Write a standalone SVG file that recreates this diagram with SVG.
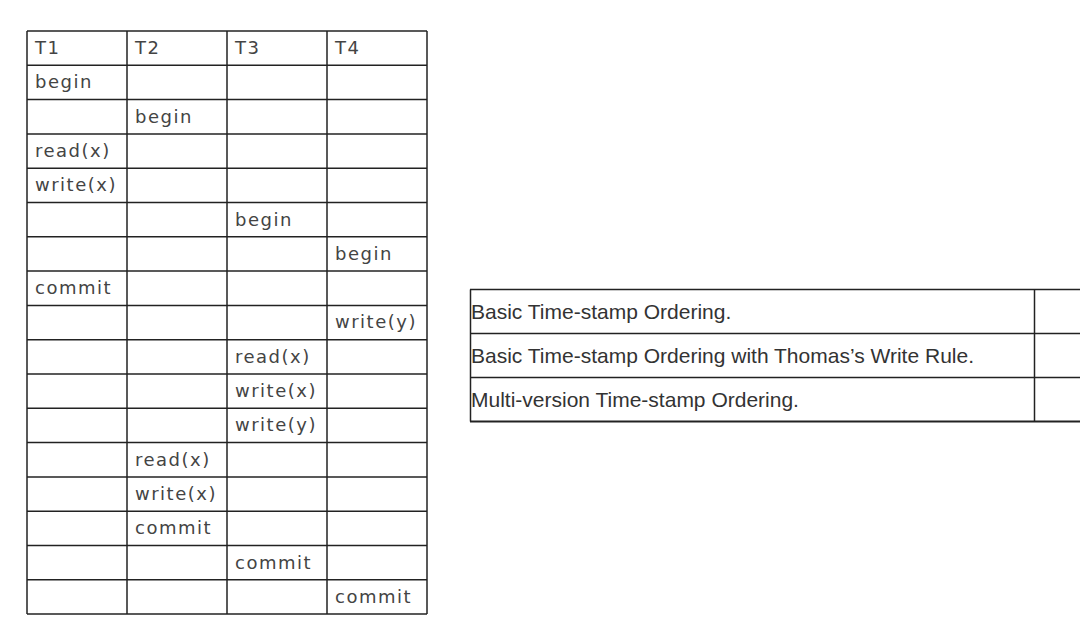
<svg xmlns="http://www.w3.org/2000/svg" width="1080" height="642" viewBox="0 0 1080 642">
<style>
.g line{stroke:#222;stroke-width:1.5}
.t{font-family:"DejaVu Sans",sans-serif;font-size:18px;letter-spacing:1.5px;fill:#444}
.r{font-family:"Liberation Sans",Arial,sans-serif;font-size:21px;fill:#333}
</style>
<rect width="1080" height="642" fill="#fff"/>
<g id="schedule" class="g">
<line x1="27" y1="31" x2="427" y2="31"/><line x1="27" y1="65.3" x2="427" y2="65.3"/><line x1="27" y1="99.6" x2="427" y2="99.6"/><line x1="27" y1="133.9" x2="427" y2="133.9"/><line x1="27" y1="168.2" x2="427" y2="168.2"/><line x1="27" y1="202.5" x2="427" y2="202.5"/><line x1="27" y1="236.8" x2="427" y2="236.8"/><line x1="27" y1="271.1" x2="427" y2="271.1"/><line x1="27" y1="305.4" x2="427" y2="305.4"/><line x1="27" y1="339.7" x2="427" y2="339.7"/><line x1="27" y1="374" x2="427" y2="374"/><line x1="27" y1="408.3" x2="427" y2="408.3"/><line x1="27" y1="442.6" x2="427" y2="442.6"/><line x1="27" y1="476.9" x2="427" y2="476.9"/><line x1="27" y1="511.2" x2="427" y2="511.2"/><line x1="27" y1="545.5" x2="427" y2="545.5"/><line x1="27" y1="579.8" x2="427" y2="579.8"/><line x1="27" y1="614.1" x2="427" y2="614.1"/>
<line x1="27" y1="31" x2="27" y2="614.1"/><line x1="127" y1="31" x2="127" y2="614.1"/><line x1="227" y1="31" x2="227" y2="614.1"/><line x1="327" y1="31" x2="327" y2="614.1"/><line x1="427" y1="31" x2="427" y2="614.1"/>
<text class="t" x="35" y="54">T1</text><text class="t" x="135" y="54">T2</text><text class="t" x="235" y="54">T3</text><text class="t" x="335" y="54">T4</text>
<text class="t" x="35" y="88.3">begin</text>
<text class="t" x="135" y="122.6">begin</text>
<text class="t" x="35" y="156.9">read(x)</text>
<text class="t" x="35" y="191.2">write(x)</text>
<text class="t" x="235" y="225.5">begin</text>
<text class="t" x="335" y="259.8">begin</text>
<text class="t" x="35" y="294.1">commit</text>
<text class="t" x="335" y="328.4">write(y)</text>
<text class="t" x="235" y="362.7">read(x)</text>
<text class="t" x="235" y="397">write(x)</text>
<text class="t" x="235" y="431.3">write(y)</text>
<text class="t" x="135" y="465.6">read(x)</text>
<text class="t" x="135" y="499.9">write(x)</text>
<text class="t" x="135" y="534.2">commit</text>
<text class="t" x="235" y="568.5">commit</text>
<text class="t" x="335" y="602.8">commit</text>
</g>
<g id="protocols" class="g">
<line x1="470" y1="289.5" x2="1080" y2="289.5"/><line x1="470" y1="333.5" x2="1080" y2="333.5"/><line x1="470" y1="377.5" x2="1080" y2="377.5"/><line x1="470" y1="421.5" x2="1080" y2="421.5" style="stroke-width:2"/>
<line x1="470.5" y1="289.5" x2="470.5" y2="421.5"/><line x1="1034.5" y1="289.5" x2="1034.5" y2="421.5"/>
<text class="r" x="471" y="319">Basic Time-stamp Ordering.</text>
<text class="r" x="471" y="363">Basic Time-stamp Ordering with Thomas’s Write Rule.</text>
<text class="r" x="471" y="407">Multi-version Time-stamp Ordering.</text>
</g>
</svg>
